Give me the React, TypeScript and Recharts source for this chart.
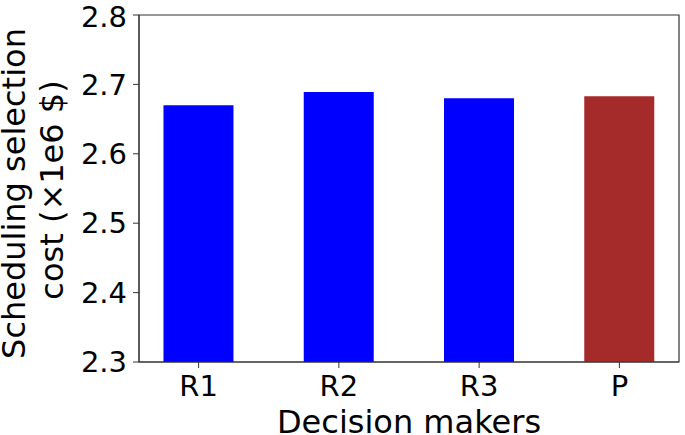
import React from "react";
import { BarChart, Bar, XAxis, YAxis, Cell, ReferenceArea } from "recharts";

const makers = ["R1", "R2", "R3", "P"];
const costs = [2.67, 2.689, 2.68, 2.683];
const barColors = ["#0000ff", "#0000ff", "#0000ff", "#a52a2a"];
const yTicks = [2.3, 2.4, 2.5, 2.6, 2.7, 2.8];

const data = makers.map((name, i) => ({ pos: i, name, cost: costs[i] }));

const FONT = "DejaVu Sans";
const AXIS = "#333";
const X_DOMAIN = [-0.425, 3.425];

// two-line rotated y label like the matplotlib one
const YLabel = () => (
  <text
    transform="translate(25,191) rotate(-90)"
    textAnchor="middle"
    fontFamily={FONT}
    fontSize={32}
    fill="#000"
  >
    <tspan x={-2.5} y={0}>Scheduling selection</tspan>
    <tspan x={1} y={38}>cost (×1e6 $)</tspan>
  </text>
);

const XLabel = () => (
  <text x={409} y={433} textAnchor="middle" fontFamily={FONT} fontSize={32} fill="#000">
    Decision makers
  </text>
);

export default function App() {
  return (
    <div style={{ position: "absolute", left: 0, top: 0, background: "#fff" }}>
      <BarChart
        width={685}
        height={435}
        data={data}
        margin={{ top: 15, right: 6, bottom: 0, left: 0 }}
      >
        <XAxis
          dataKey="pos"
          type="number"
          domain={X_DOMAIN}
          allowDataOverflow
          ticks={[0, 1, 2, 3]}
          tickFormatter={(v) => makers[v]}
          height={73}
          tickSize={6}
          tickMargin={7}
          stroke={AXIS}
          tick={{ fill: "#000", fontSize: 29, fontFamily: FONT }}
          label={<XLabel />}
        />
        <YAxis
          domain={[2.3, 2.8]}
          ticks={yTicks}
          allowDataOverflow
          width={139}
          tickSize={6}
          tickMargin={6}
          stroke={AXIS}
          tickFormatter={(v) => v.toFixed(1)}
          tick={{ fill: "#000", fontSize: 29, fontFamily: FONT }}
          label={<YLabel />}
        />
        <Bar dataKey="cost" barSize={70} isAnimationActive={false}>
          {data.map((d, i) => (
            <Cell key={d.name} fill={barColors[i]} />
          ))}
        </Bar>
        {/* box frame around the plot */}
        <ReferenceArea
          x1={X_DOMAIN[0]}
          x2={X_DOMAIN[1]}
          y1={2.3}
          y2={2.8}
          fill="none"
          fillOpacity={0}
          stroke={AXIS}
          strokeWidth={1.2}
        />
      </BarChart>
    </div>
  );
}
